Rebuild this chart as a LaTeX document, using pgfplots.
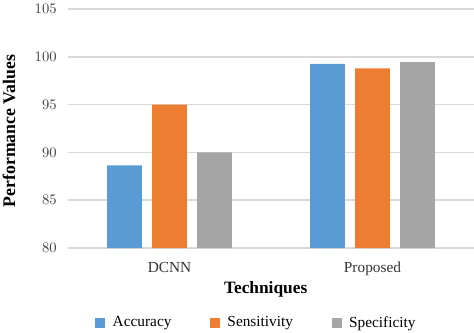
\documentclass[border=0pt]{standalone}
\usepackage{pgfplots}
\pgfplotsset{compat=1.18}
\usepackage{fontspec}
\setmainfont{Liberation Serif}
\newfontfamily\calib{Carlito}
\definecolor{cA}{HTML}{5B9BD5}
\definecolor{cS}{HTML}{ED7D31}
\definecolor{cP}{HTML}{A5A5A5}
\definecolor{gridc}{HTML}{D9D9D9}
\begin{document}
\begin{tikzpicture}
\path[use as bounding box] (-51pt,-63pt) rectangle (304.5pt,186pt);
\begin{axis}[
  at={(0pt,0pt)}, anchor=south west,
  scale only axis, width=304.5pt, height=179.25pt,
  xmin=-0.5, xmax=1.5, ymin=80, ymax=105,
  ytick={80,85,...,105},
  yticklabel style={font=\calib\fontsize{11}{12}\selectfont, text=black!75, xshift=-5pt},
  xtick=data, xticklabels={DCNN,Proposed},
  xticklabel style={font=\fontsize{11.5}{12}\selectfont, text=black!80, yshift=-7pt},
  axis line style={draw=none},
  tick style={draw=none},
  ymajorgrids, grid style={gridc, line width=1.1pt},
  ylabel={\textbf{Performance Values}},
  ylabel style={font=\fontsize{13.3}{14}\selectfont, at={(axis description cs:0,0.49)}, anchor=south, yshift=36pt},
  xlabel={\textbf{Techniques}},
  xlabel style={font=\fontsize{13}{14}\selectfont, yshift=3pt, xshift=-4pt},
  legend style={at={(axis description cs:0.465,-0.313)}, anchor=center, draw=none, legend columns=3,
    font=\fontsize{11.5}{12}\selectfont, /tikz/every even column/.append style={column sep=27pt}},
  legend image code/.code={\fill[#1] (0pt,-3.75pt) rectangle (7.5pt,3.75pt); \path (0pt,0pt) -- (11pt,0pt);},
]
\addplot[ybar, bar width=0.172, bar shift=-0.2217, fill=cA, draw=none] coordinates {(0,88.65) (1,99.25)};
\addlegendentry{Accuracy}
\addplot[ybar, bar width=0.172, bar shift=0, fill=cS, draw=none] coordinates {(0,95.0) (1,98.8)};
\addlegendentry{Sensitivity}
\addplot[ybar, bar width=0.172, bar shift=0.2217, fill=cP, draw=none] coordinates {(0,90.0) (1,99.45)};
\addlegendentry{Specificity}
\end{axis}
\end{tikzpicture}
\end{document}
